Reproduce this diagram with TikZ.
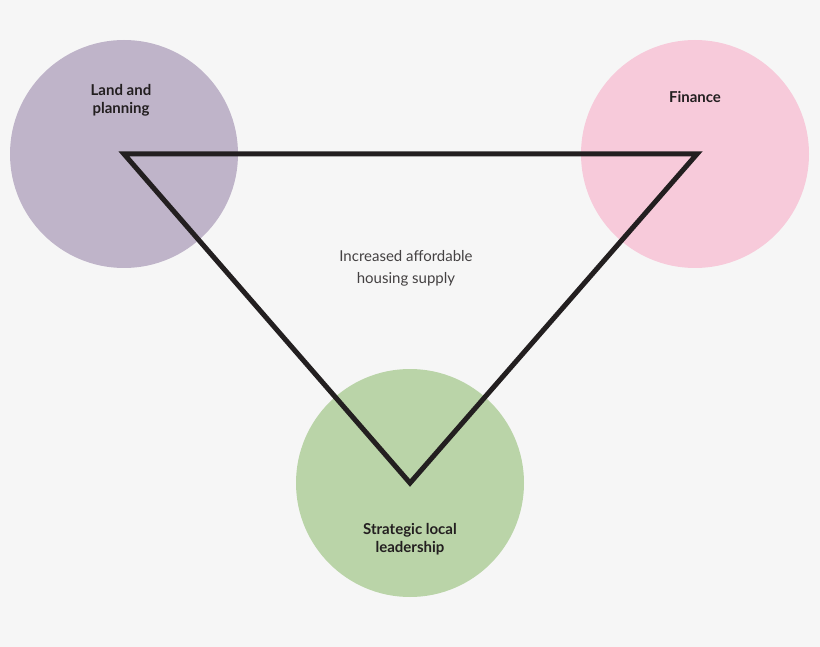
\documentclass[tikz,border=0pt]{standalone}
\usepackage{fontspec}
\setmainfont{Lato}
\definecolor{bg}{HTML}{F6F6F6}
\definecolor{cpurple}{HTML}{BFB4C9}
\definecolor{cpink}{HTML}{F7CADA}
\definecolor{cgreen}{HTML}{BAD4A8}
\definecolor{ink}{HTML}{231F20}
\begin{document}
\begin{tikzpicture}[x=1pt,y=-1pt,
  circ/.style={circle,minimum size=228pt,inner sep=0pt},
  lbl/.style={font=\fontsize{15}{18}\selectfont\bfseries,text=ink,align=center}]
\fill[bg] (0,0) rectangle (820,647);
\useasboundingbox (0,0) rectangle (820,647);
\node[circ,fill=cpurple] (cl) at (124,154) {};
\node[circ,fill=cpink] (cr) at (695,154) {};
\node[circ,fill=cgreen] (cb) at (410,483) {};
\coordinate (a) at (124,154);
\coordinate (b) at (697,154);
\coordinate (c) at (410,483);
\draw[ink,line width=5pt,line join=miter] (a) -- (b) -- (c) -- cycle;
\node[lbl] (tl) at (121,100) {Land and\\planning};
\node[lbl] (tr) at (695,97) {Finance};
\node[lbl] (tb) at (410,539) {Strategic local\\leadership};
\node[font=\fontsize{15}{22}\selectfont,text=ink!85,align=center] (tc) at (406,268) {Increased affordable\\housing supply};
\end{tikzpicture}
\end{document}
